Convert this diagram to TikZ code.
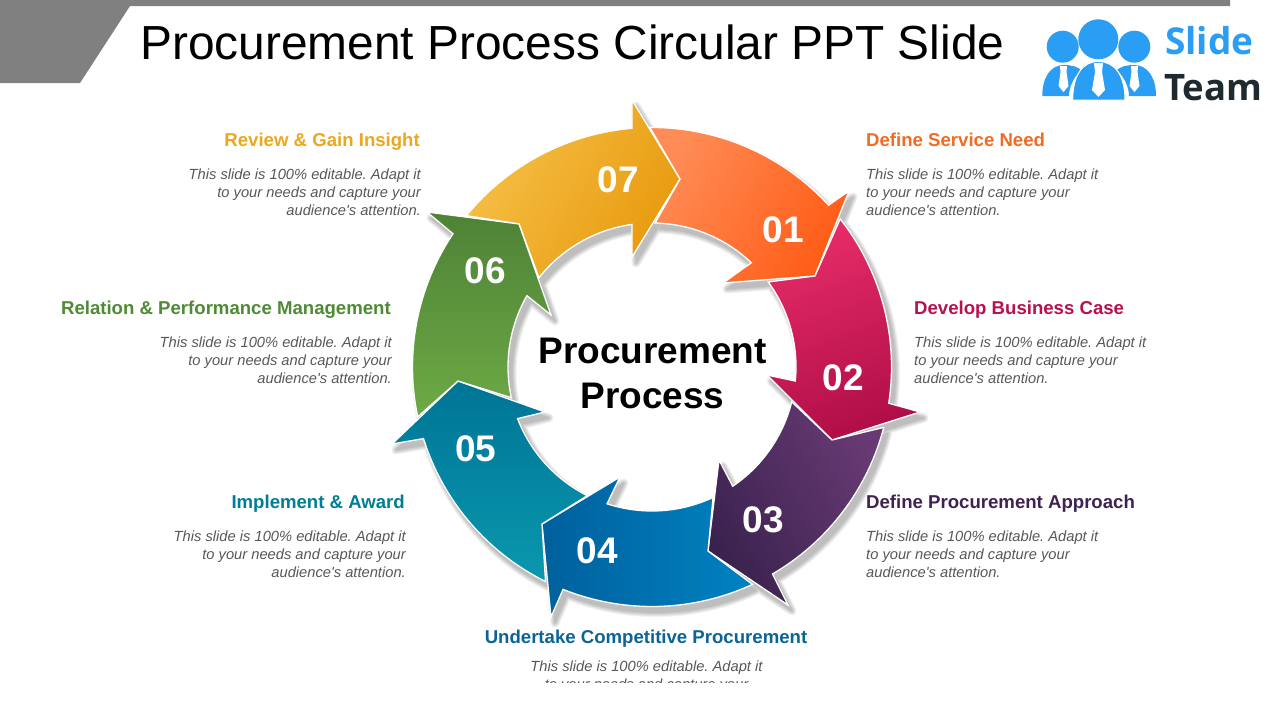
\documentclass[tikz,border=0pt]{standalone}
\usepackage{fontspec}
\setmainfont{Liberation Sans}[Ligatures=TeXOff]
\newfontfamily\logofont{Open Sans}
\definecolor{barGray}{HTML}{808080}
\definecolor{bodyGray}{HTML}{585858}
\definecolor{hReview}{HTML}{EBA81E}
\definecolor{hDefine}{HTML}{F26B23}
\definecolor{hDevelop}{HTML}{B9104F}
\definecolor{hApproach}{HTML}{3F2250}
\definecolor{hUndertake}{HTML}{0B6496}
\definecolor{hImplement}{HTML}{007E96}
\definecolor{hRelation}{HTML}{4F8A35}
\definecolor{logoBlue}{HTML}{2A9DF4}
\definecolor{logoDark}{HTML}{1F2A30}
\newcommand{\Ro}{239.5pt}
\newcommand{\Ri}{144pt}
\newcommand{\ringpath}[8]{([shift={(#1:\Ro)}]652,367) arc[start angle=#1,end angle=#2,radius=\Ro] -- #3 -- #4 -- #5 -- ([shift={(#6:\Ri)}]652,367) arc[start angle=#6,end angle=#7,radius=\Ri] -- #8 -- cycle}
\newcommand{\pSeven}{\ringpath{140.8}{94.8}{(632,100)}{(680,179)}{(632,257)}{98}{141.7}{(519,224)}}
\newcommand{\pOne}{\ringpath{90.5}{42.5}{(849,191)}{(815,276)}{(723,283)}{46.4}{88.8}{(680,179)}}
\newcommand{\pTwo}{\ringpath{38.2}{-8.7}{(920,412)}{(832,440)}{(767,375)}{-5.6}{36.2}{(815,276)}}
\newcommand{\pThree}{\ringpath{-14.6}{-59.8}{(788,605)}{(708,551)}{(719,460)}{-55.9}{-14}{(832,440)}}
\newcommand{\pFour}{\ringpath{-65.2}{-111.8}{(551,617)}{(542,524)}{(620,477)}{-108.2}{-64.9}{(708,551)}}
\newcommand{\pFive}{\ringpath{-116.4}{-162.6}{(392,444)}{(458,381)}{(545,412)}{-159}{-116.7}{(542,524)}}
\newcommand{\pSix}{\ringpath{-168}{-213.8}{(427,212)}{(519,224)}{(551,315)}{-209.7}{-167.7}{(458,381)}}
\tikzset{
  headtext/.style={font=\fontsize{18.6}{23}\selectfont\bfseries,inner sep=0pt},
  bodytext/.style={font=\frenchspacing\fontsize{14.7}{18}\selectfont\itshape,text=bodyGray,inner sep=0pt},
  numtext/.style={font=\fontsize{37}{40}\selectfont\bfseries,text=white,inner sep=0pt},
  ringarrow/.style={draw=white,line width=1.3pt,line join=miter,shading=axis},
  shadowpass/.style={fill=black,draw=black,line join=round},
  logofill/.style={fill=logoBlue,draw=none},
  tiefill/.style={fill=white,draw=none},
  bandfill/.style={fill=barGray,draw=none}
}
\begin{document}
\begin{tikzpicture}[x=1pt,y=-1pt]
\useasboundingbox (0,0) rectangle (1280,720);
\fill[white] (0,0) rectangle (1280,720);
% top band
\path[bandfill] (0,0) -- (1230,0) -- (1230,6) -- (130,6) -- (80,83) -- (0,83) -- cycle;
\node[font=\fontsize{47.85}{56}\selectfont,anchor=base west,inner sep=0pt] (title) at (140,59) {Procurement Process Circular PPT Slide};
% logo
\path[logofill] (1062.7,46.7) circle[radius=16];
\path[logofill] (1134.3,46.7) circle[radius=16];
\path[logofill] (1098.3,39.3) circle[radius=20];
\path[logofill] (1042.3,96) .. controls (1042.3,78) and (1050,65) .. (1064,65) .. controls (1072,65) and (1078,67) .. (1081,70) .. controls (1073,78) and (1069,88) .. (1069,96) -- cycle;
\path[logofill] (1156,96) .. controls (1156,78) and (1148,65) .. (1134,65) .. controls (1126,65) and (1120,67) .. (1117,70) .. controls (1125,78) and (1129,88) .. (1129,96) -- cycle;
\path[logofill,draw=white,line width=1pt] (1072.7,100) .. controls (1072.7,76) and (1082,61.5) .. (1098.5,61.5) .. controls (1115,61.5) and (1125,76) .. (1125,100) -- cycle;
\path[tiefill] (1094,63) -- (1103,63) -- (1102,72) -- (1105,90) -- (1098.5,97) -- (1092,90) -- (1095,72) -- cycle;
\path[tiefill] (1060,66) -- (1067,66) -- (1066.5,72) -- (1068.5,86) -- (1063.5,92) -- (1058.5,86) -- (1060.5,72) -- cycle;
\path[tiefill] (1131,66) -- (1138,66) -- (1137.5,72) -- (1139.5,86) -- (1134.5,92) -- (1129.5,86) -- (1131.5,72) -- cycle;
\node[font=\logofont\fontsize{37}{40}\selectfont\bfseries,text=logoBlue,anchor=base west,inner sep=0pt] (logoa) at (1165,54) {Slide};
\node[font=\logofont\fontsize{36.5}{40}\selectfont\bfseries,text=logoDark,anchor=base west,inner sep=0pt] (logob) at (1164,100) {Team};
% shadows
\foreach \w in {9,7,5,3,1}{
  \begin{scope}[shift={(4,6)},transparency group,opacity=.055]
    \path[shadowpass,line width=\w pt] \pSeven;
    \path[shadowpass,line width=\w pt] \pOne;
    \path[shadowpass,line width=\w pt] \pTwo;
    \path[shadowpass,line width=\w pt] \pThree;
    \path[shadowpass,line width=\w pt] \pFour;
    \path[shadowpass,line width=\w pt] \pFive;
    \path[shadowpass,line width=\w pt] \pSix;
  \end{scope}
}
% arrows
\path[ringarrow,top color={rgb,255:red,246;green,192;blue,72},bottom color={rgb,255:red,232;green,154;blue,14},shading angle=60] \pSeven;
\path[ringarrow,top color={rgb,255:red,255;green,140;blue,86},bottom color={rgb,255:red,255;green,92;blue,22},shading angle=60] \pOne;
\path[ringarrow,top color={rgb,255:red,230;green,44;blue,104},bottom color={rgb,255:red,176;green,14;blue,72},shading angle=20] \pTwo;
\path[ringarrow,top color={rgb,255:red,104;green,58;blue,116},bottom color={rgb,255:red,58;green,34;blue,78},shading angle=-60] \pThree;
\path[ringarrow,top color={rgb,255:red,0;green,130;blue,194},bottom color={rgb,255:red,0;green,96;blue,156},shading angle=-90] \pFour;
\path[ringarrow,top color={rgb,255:red,0;green,116;blue,150},bottom color={rgb,255:red,10;green,152;blue,174},shading angle=0] \pFive;
\path[ringarrow,top color={rgb,255:red,78;green,130;blue,54},bottom color={rgb,255:red,109;green,170;blue,69},shading angle=0] \pSix;
% numbers
\node[numtext] (n7) at (618,180) {07};
\node[numtext] (n1) at (783,230) {01};
\node[numtext] (n2) at (843,378) {02};
\node[numtext] (n3) at (763,520) {03};
\node[numtext] (n4) at (597,551) {04};
\node[numtext] (n5) at (476,449) {05};
\node[numtext] (n6) at (485.5,271) {06};
% centre
\node[font=\fontsize{37}{45}\selectfont\bfseries,align=center,inner sep=0pt] (centre) at (652.5,373) {Procurement\\Process};
% headings and bodies
\node[headtext,text=hReview,anchor=base east] (h7) at (420,146) {Review \& Gain Insight};
\node[bodytext,align=right,anchor=east] (b7) at (421,192) {This slide is 100\% editable. Adapt it\\to your needs and capture your\\audience's attention.};
\node[headtext,text=hDefine,anchor=base west] (h1) at (866,146) {Define Service Need};
\node[bodytext,align=left,anchor=west] (b1) at (866,192) {This slide is 100\% editable. Adapt it\\to your needs and capture your\\audience's attention.};
\node[headtext,text=hDevelop,anchor=base west] (h2) at (914,314) {Develop Business Case};
\node[bodytext,align=left,anchor=west] (b2) at (914,360) {This slide is 100\% editable. Adapt it\\to your needs and capture your\\audience's attention.};
\node[headtext,text=hApproach,anchor=base west] (h3) at (866,508) {Define Procurement Approach};
\node[bodytext,align=left,anchor=west] (b3) at (866,554) {This slide is 100\% editable. Adapt it\\to your needs and capture your\\audience's attention.};
\node[headtext,text=hUndertake,anchor=base] (h4) at (646,643) {Undertake Competitive Procurement};
\begin{scope}
  \clip (400,650) rectangle (900,682.5);
  \node[bodytext,align=center] (b4) at (646.5,676.5) {This slide is 100\% editable. Adapt it\\to your needs and capture your};
\end{scope}
\node[headtext,text=hImplement,anchor=base east] (h5) at (405,508) {Implement \& Award};
\node[bodytext,align=right,anchor=east] (b5) at (406,554) {This slide is 100\% editable. Adapt it\\to your needs and capture your\\audience's attention.};
\node[headtext,text=hRelation,anchor=base east] (h6) at (391,314) {Relation \& Performance Management};
\node[bodytext,align=right,anchor=east] (b6) at (392,360) {This slide is 100\% editable. Adapt it\\to your needs and capture your\\audience's attention.};
\end{tikzpicture}
\end{document}
